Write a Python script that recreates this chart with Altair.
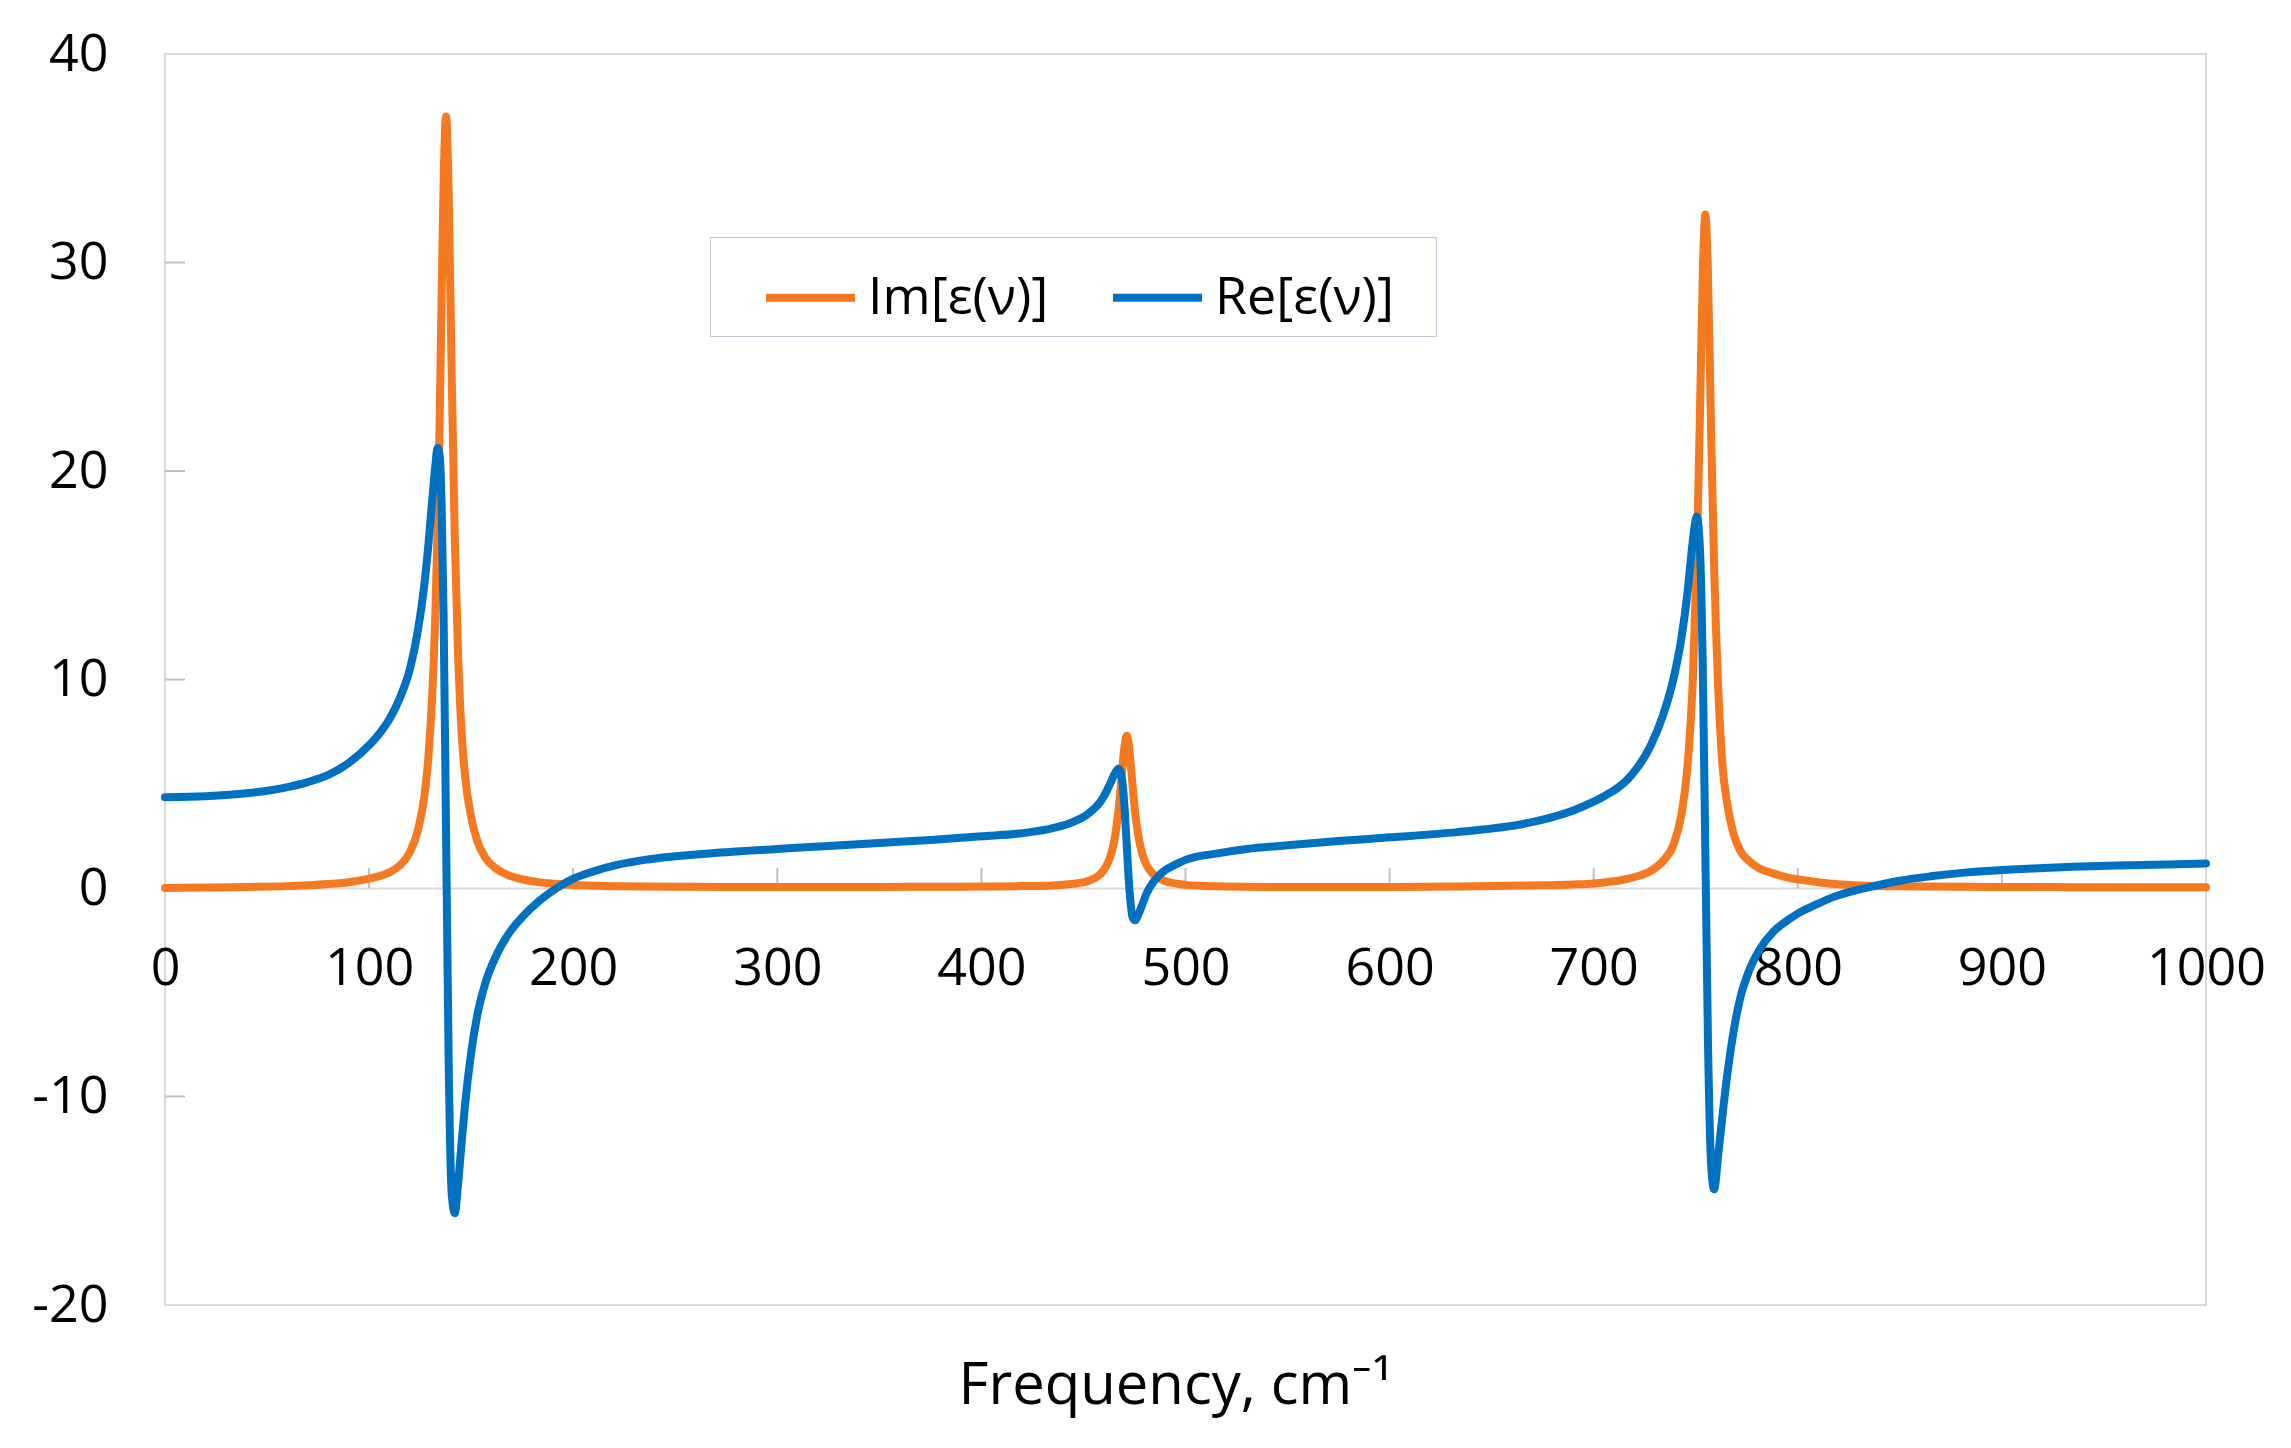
import altair as alt
import pandas as pd

# Frequency grid (cm^-1)
freq = [
    0, 20, 40, 60, 70, 80, 90, 100, 105, 110,
    115, 120, 124, 127, 129, 131, 132.5, 133.5, 134.5, 135.5,
    136.5, 137.7, 139, 140.5, 142, 143.5, 145, 147, 150, 153,
    157, 162, 168, 175, 183, 192, 200, 210, 222, 235,
    250, 275, 300, 325, 350, 375, 400, 420, 435, 445,
    452, 455, 458, 460, 462, 464, 465.5, 467.2, 469, 470,
    471.2, 472.2, 473, 474, 475.3, 477, 479, 481, 484, 487,
    490, 495, 500, 515, 530, 550, 575, 600, 633, 668,
    690, 700, 706, 712, 716.5, 721, 728, 734, 739, 743,
    746, 748.5, 750.5, 752, 753.5, 754.7, 756, 757.5, 759, 761,
    763, 765.5, 768.5, 772, 776, 781, 788, 795, 801, 810,
    817, 825, 834, 850, 865, 883, 900, 915, 935, 956,
    980, 1000,
]

# Im[eps(nu)] (orange)
im_eps = [
    0.0, 0.02, 0.05, 0.09, 0.13, 0.19, 0.28, 0.45, 0.57, 0.75,
    1.08, 1.72, 2.8, 4.35, 6.2, 9.4, 13.3, 17.1, 22.1, 28.1,
    33.8, 37.0, 33.3, 24.4, 16.7, 11.5, 8.0, 5.4, 3.4, 2.25,
    1.45, 0.95, 0.62, 0.42, 0.28, 0.19, 0.14, 0.11, 0.08, 0.07,
    0.06, 0.05, 0.05, 0.05, 0.05, 0.06, 0.07, 0.09, 0.12, 0.2,
    0.32, 0.44, 0.64, 0.86, 1.21, 1.79, 2.49, 3.74, 5.67, 6.72,
    7.3, 6.89, 6.1, 5.0, 3.65, 2.44, 1.58, 1.09, 0.68, 0.46,
    0.33, 0.22, 0.15, 0.08, 0.06, 0.05, 0.05, 0.05, 0.07, 0.12,
    0.17, 0.22, 0.28, 0.35, 0.44, 0.55, 0.82, 1.3, 2.06, 3.53,
    5.87, 9.8, 15.8, 22.5, 29.7, 32.3, 29.4, 22.0, 15.4, 9.6,
    6.0, 4.0, 2.6, 1.75, 1.3, 0.95, 0.7, 0.5, 0.4, 0.28,
    0.2, 0.15, 0.11, 0.08, 0.07, 0.06, 0.05, 0.05, 0.04, 0.04,
    0.04, 0.03,
]

# Re[eps(nu)] (blue)
re_eps = [
    4.35, 4.4, 4.54, 4.84, 5.08, 5.42, 6.0, 6.85, 7.4, 8.1,
    9.1, 10.5, 12.4, 14.5, 16.4, 18.7, 20.3, 21.1, 20.8, 18.5,
    13.1, 2.7, -8.4, -14.7, -15.6, -14.3, -12.6, -10.4, -7.9, -6.1,
    -4.55, -3.3, -2.25, -1.4, -0.65, 0.0, 0.45, 0.8, 1.12, 1.35,
    1.52, 1.72, 1.87, 2.02, 2.16, 2.3, 2.48, 2.63, 2.87, 3.17,
    3.54, 3.78, 4.1, 4.4, 4.78, 5.2, 5.52, 5.72, 5.15, 4.05,
    2.08, 0.4, -0.6, -1.38, -1.55, -1.25, -0.75, -0.25, 0.25, 0.6,
    0.85, 1.12, 1.35, 1.65, 1.87, 2.05, 2.25, 2.43, 2.68, 3.12,
    3.72, 4.14, 4.45, 4.82, 5.2, 5.72, 6.85, 8.3, 10.0, 12.0,
    14.2, 16.6, 17.8, 16.4, 10.2, 1.7, -7.4, -13.2, -14.45, -12.8,
    -11.0, -8.9, -6.9, -5.2, -4.0, -3.0, -2.1, -1.55, -1.17, -0.75,
    -0.45, -0.2, 0.02, 0.35, 0.56, 0.75, 0.86, 0.94, 1.02, 1.08,
    1.13, 1.18,
]

series_names = ["Im[ε(ν)]", "Re[ε(ν)]"]
series_colors = ["#F47920", "#0070C0"]

x_ticks = [0, 100, 200, 300, 400, 500, 600, 700, 800, 900, 1000]
y_ticks = [-20, -10, 0, 10, 20, 30, 40]
inner_x_ticks = [100, 200, 300, 400, 500, 600, 700, 800, 900]
inner_y_ticks = [-10, 10, 20, 30]
x_tick_len = 0.96   # in y units (tick marks pointing up from zero line)
y_tick_len = 9.8    # in x units (tick marks pointing right from frame)

rows = []
for name, vals in zip(series_names, [im_eps, re_eps]):
    for f, v in zip(freq, vals):
        rows.append({"freq": f, "value": v, "series": name})
df = pd.DataFrame(rows)

xt_df = pd.DataFrame({"freq": inner_x_ticks,
                      "value": [0.0] * len(inner_x_ticks),
                      "value2": [x_tick_len] * len(inner_x_ticks)})
yt_df = pd.DataFrame({"value": inner_y_ticks,
                      "freq": [0.0] * len(inner_y_ticks),
                      "freq2": [y_tick_len] * len(inner_y_ticks)})

FONT = "Open Sans"
x_scale = alt.Scale(domain=[0, 1000], nice=False, zero=False)
y_scale = alt.Scale(domain=[-20, 40], nice=False, zero=False)

x_axis = alt.Axis(
    values=x_ticks,
    offset=-417,
    domainColor="#D9D9D9",
    domainWidth=2,
    ticks=False,
    tickSize=0,
    labelPadding=55,
    labelFlush=False,
    labelOverlap=False,
    format="d",
    titleX=1010,
    titleY=515,
    titleBaseline="alphabetic",
    titleAlign="center",
)
y_axis = alt.Axis(
    values=y_ticks,
    domain=False,
    ticks=False,
    tickSize=0,
    labelPadding=57,
    labelExpr="toString(datum.value)",
)

xt = alt.Chart(xt_df).mark_rule(color="#BFBFBF", strokeWidth=2).encode(
    x=alt.X("freq:Q", scale=x_scale, axis=x_axis, title="Frequency, cm⁻¹"),
    y=alt.Y("value:Q", scale=y_scale, axis=y_axis, title=None),
    y2="value2:Q",
)

yt = alt.Chart(yt_df).mark_rule(color="#BFBFBF", strokeWidth=2).encode(
    y=alt.Y("value:Q", scale=y_scale, axis=y_axis, title=None),
    x=alt.X("freq:Q", scale=x_scale, axis=x_axis, title="Frequency, cm⁻¹"),
    x2="freq2:Q",
)

lines = alt.Chart(df).mark_line(
    strokeWidth=8, interpolate="monotone", strokeCap="round", strokeJoin="round"
).encode(
    x=alt.X("freq:Q", scale=x_scale, axis=x_axis, title="Frequency, cm⁻¹"),
    y=alt.Y("value:Q", scale=y_scale, axis=y_axis, title=None),
    color=alt.Color(
        "series:N",
        scale=alt.Scale(domain=series_names, range=series_colors),
        legend=alt.Legend(
            title=" ",
            titleOrient="right",
            titlePadding=30,
            titleFontSize=1,
            orient="none",
            legendX=545,
            legendY=183,
            direction="horizontal",
            symbolType="stroke",
            symbolSize=7921,
            symbolStrokeWidth=8,
            symbolOffset=40,
            labelOffset=9,
            columnPadding=20,
            labelFont=FONT,
            labelFontSize=52,
            labelColor="#000000",
            labelLimit=500,
            strokeColor="#BCC6D4",
            fillColor="#FFFFFF",
            padding=12,
        ),
    ),
)

chart = (
    alt.layer(xt, yt, lines)
    .properties(
        width=2041,
        height=1251,
        autosize=alt.AutoSizeParams(type="none"),
        padding={"left": 157, "top": 46, "right": 60, "bottom": 120},
    )
    .configure(font=FONT)
    .configure_view(stroke="#D9D9D9", strokeWidth=2)
    .configure_axis(
        labelFont=FONT,
        labelFontSize=52,
        labelColor="#000000",
        titleFont=FONT,
        titleFontSize=58,
        titleFontWeight="normal",
        titleColor="#000000",
        grid=False,
    )
)

chart.save("out.html", embed_options={"renderer": "svg", "actions": False})
